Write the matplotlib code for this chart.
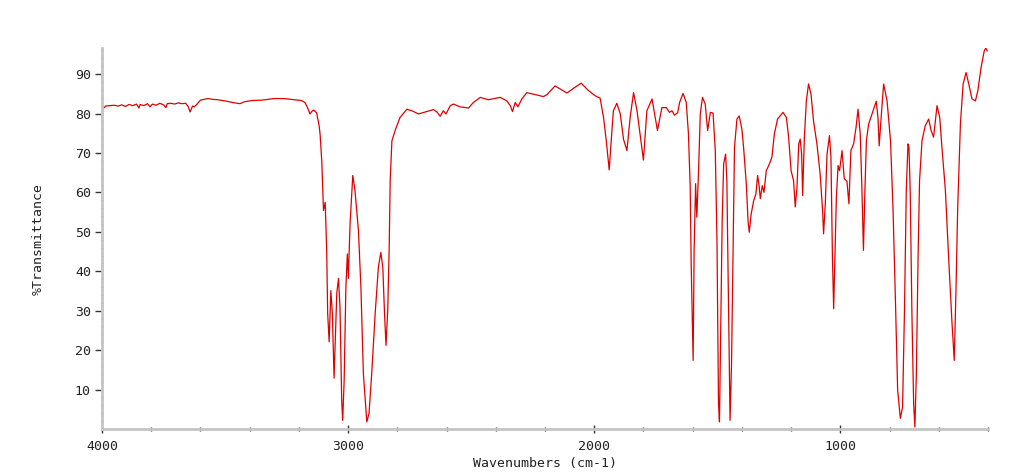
"""
Spectre IR (transmittance) - courbe rouge sur fond blanc, axe des nombres
d'onde inverse de 4000 a 400 cm-1.
"""

import matplotlib
matplotlib.use("Agg")
import matplotlib.pyplot as plt
from matplotlib.ticker import FixedLocator, MultipleLocator

# nombres d'onde (cm-1)
wavenumbers = [
    3996, 3985, 3970, 3950, 3935, 3920, 3905, 3890, 3875, 3860, 3850, 3845,
    3830, 3815, 3805, 3795, 3780, 3765, 3750, 3740, 3735, 3720, 3705, 3690,
    3675, 3660, 3650, 3642, 3632, 3625, 3615, 3600, 3585, 3570, 3550, 3530,
    3500, 3470, 3440, 3420, 3390, 3350, 3300, 3260, 3220, 3190, 3175, 3165,
    3155, 3148, 3140, 3128, 3118, 3114, 3107, 3100, 3093, 3087, 3083, 3077,
    3070, 3064, 3057, 3046, 3039, 3033, 3026, 3022, 3016, 3009, 3003, 2999,
    2992, 2981, 2972, 2958, 2948, 2938, 2924, 2915, 2904, 2890, 2877, 2867,
    2859, 2852, 2846, 2839, 2833, 2829, 2822, 2809, 2789, 2761, 2741, 2714,
    2680, 2653, 2639, 2626, 2613, 2602, 2585, 2572, 2545, 2511, 2491, 2463,
    2430, 2382, 2355, 2341, 2332, 2321, 2310, 2294, 2274, 2247, 2206, 2192,
    2159, 2138, 2111, 2084, 2053, 2023, 1996, 1976, 1962, 1951, 1939, 1928,
    1922, 1908, 1894, 1881, 1867, 1854, 1840, 1826, 1812, 1800, 1786, 1765,
    1752, 1743, 1725, 1707, 1694, 1684, 1674, 1661, 1653, 1639, 1626, 1617,
    1610, 1606, 1600, 1598, 1594, 1588, 1583, 1576, 1569, 1560, 1549, 1539,
    1528, 1517, 1508, 1501, 1495, 1491, 1485, 1480, 1474, 1466, 1461, 1455,
    1448, 1442, 1436, 1430, 1420, 1411, 1400, 1393, 1382, 1375, 1370, 1362,
    1352, 1343, 1336, 1330, 1325, 1317, 1310, 1301, 1291, 1278, 1268, 1255,
    1233, 1219, 1210, 1200, 1190, 1183, 1176, 1169, 1163, 1157, 1153, 1146,
    1138, 1129, 1119, 1109, 1095, 1082, 1072, 1068, 1061, 1054, 1044, 1038,
    1032, 1027, 1022, 1016, 1009, 1003, 993, 984, 973, 965, 957, 946,
    936, 928, 919, 912, 906, 900, 894, 885, 871, 854, 847, 842,
    835, 824, 810, 796, 786, 776, 767, 756, 747, 739, 732, 725,
    721, 716, 709, 702, 697, 691, 684, 678, 668, 655, 641, 631,
    621, 607, 596, 587, 573, 560, 546, 537, 530, 523, 512, 501,
    489, 478, 465, 451, 441, 428, 415, 409, 403,
]

# %T correspondant
transmittance = [
    81.2, 81.9, 82.0, 82.1, 81.9, 82.2, 81.8, 82.3, 82.0, 82.4, 81.4, 82.3,
    82.0, 82.5, 81.7, 82.4, 82.1, 82.6, 82.2, 81.5, 82.5, 82.6, 82.4, 82.7,
    82.5, 82.6, 81.8, 80.4, 81.9, 81.7, 82.3, 83.4, 83.6, 83.8, 83.6, 83.5,
    83.2, 82.8, 82.5, 83.0, 83.3, 83.4, 83.8, 83.8, 83.5, 83.3, 82.8, 81.5,
    79.9, 80.5, 80.9, 80.2, 77.0, 74.9, 68.0, 55.4, 57.5, 45.3, 29.3, 22.1,
    35.1, 29.3, 12.9, 34.4, 38.2, 30.9, 7.3, 2.2, 12.4, 36.0, 44.4, 38.2,
    52.1, 64.3, 60.5, 50.3, 36.0, 14.1, 1.8, 4.0, 14.1, 29.3, 41.0, 44.8,
    41.0, 29.3, 21.2, 30.1, 46.1, 63.0, 73.1, 75.7, 79.0, 81.1, 80.7, 79.9,
    80.5, 81.0, 80.4, 79.3, 80.7, 79.9, 82.0, 82.4, 81.7, 81.4, 82.8, 84.1,
    83.5, 84.1, 83.2, 82.0, 80.5, 82.8, 81.7, 83.7, 85.3, 84.9, 84.3, 84.8,
    87.0, 86.2, 85.2, 86.4, 87.7, 85.8, 84.5, 83.9, 79.0, 73.1, 65.7, 75.7,
    80.7, 82.6, 79.9, 73.5, 70.6, 79.0, 85.3, 80.7, 74.0, 68.2, 80.7, 83.7,
    79.0, 75.7, 81.5, 81.5, 80.3, 80.7, 79.6, 80.2, 82.8, 85.1, 82.8, 74.8,
    61.5, 41.9, 23.3, 17.4, 45.3, 62.2, 53.7, 65.5, 79.9, 84.1, 82.4, 75.7,
    80.3, 80.1, 70.6, 47.0, 6.5, 1.8, 30.1, 52.9, 67.2, 69.7, 63.0, 35.1,
    2.2, 16.6, 44.4, 71.4, 78.6, 79.4, 76.1, 71.4, 62.2, 52.9, 49.9, 54.6,
    57.9, 59.6, 64.3, 61.7, 58.4, 61.7, 60.0, 65.5, 66.8, 68.9, 74.8, 78.6,
    80.3, 79.0, 74.0, 65.5, 63.0, 56.3, 61.3, 72.3, 73.5, 69.7, 59.2, 74.0,
    83.2, 87.5, 84.9, 78.2, 72.3, 64.7, 55.4, 49.5, 57.1, 69.7, 74.4, 68.9,
    43.6, 30.5, 43.6, 58.8, 66.8, 65.5, 70.6, 63.5, 62.8, 57.1, 70.6, 72.3,
    76.5, 81.1, 74.8, 60.5, 45.3, 60.5, 73.1, 77.3, 79.9, 83.1, 79.0, 71.8,
    78.2, 87.5, 83.2, 73.1, 56.2, 32.6, 9.8, 2.7, 5.6, 30.9, 60.5, 72.3,
    71.4, 60.5, 29.2, 6.5, 0.5, 14.0, 43.6, 63.0, 73.1, 76.9, 78.6, 75.7,
    74.0, 82.0, 79.0, 71.4, 60.5, 43.6, 26.7, 17.4, 35.1, 56.2, 77.3, 87.5,
    90.4, 87.5, 83.7, 83.2, 85.8, 91.7, 95.9, 96.6, 95.9,
]

y_major = [10, 20, 30, 40, 50, 60, 70, 80, 90]
x_major = [4000, 3000, 2000, 1000]

FONT = "DejaVu Sans Mono"

fig = plt.figure(figsize=(10.22, 4.76), dpi=100)
ax = fig.add_axes([0.0998, 0.0987, 0.8669, 0.8003])

ax.plot(wavenumbers, transmittance, color="#e00000", lw=0.9)

ax.set_xlim(4000, 400)
ax.set_ylim(0, 96.6)

for side in ("top", "right"):
    ax.spines[side].set_visible(False)
for side in ("left", "bottom"):
    ax.spines[side].set_color("#c4c4c4")
    ax.spines[side].set_linewidth(2.0)

ax.xaxis.set_major_locator(FixedLocator(x_major))
ax.xaxis.set_minor_locator(MultipleLocator(200))
ax.yaxis.set_major_locator(FixedLocator(y_major))
ax.yaxis.set_minor_locator(MultipleLocator(2))

ax.tick_params(axis="x", which="major", direction="inout", length=6,
               width=1, color="#333333", pad=5, labelsize=9.5)
ax.tick_params(axis="x", which="minor", direction="inout", length=3.5,
               width=1, color="#333333")
ax.tick_params(axis="y", which="major", direction="out", length=5,
               width=1, color="#333333", pad=3, labelsize=9.5)
ax.tick_params(axis="y", which="minor", direction="inout", length=2,
               width=0.8, color="#333333")

for lab in ax.get_xticklabels() + ax.get_yticklabels():
    lab.set_family(FONT)
    lab.set_color("#222222")

ax.set_xlabel("Wavenumbers (cm-1)", family=FONT, fontsize=9.5,
              color="#222222", labelpad=3)
ax.set_ylabel("%Transmittance", family=FONT, fontsize=9.5,
              color="#222222", labelpad=22)

fig.savefig("out.png", dpi=100)
